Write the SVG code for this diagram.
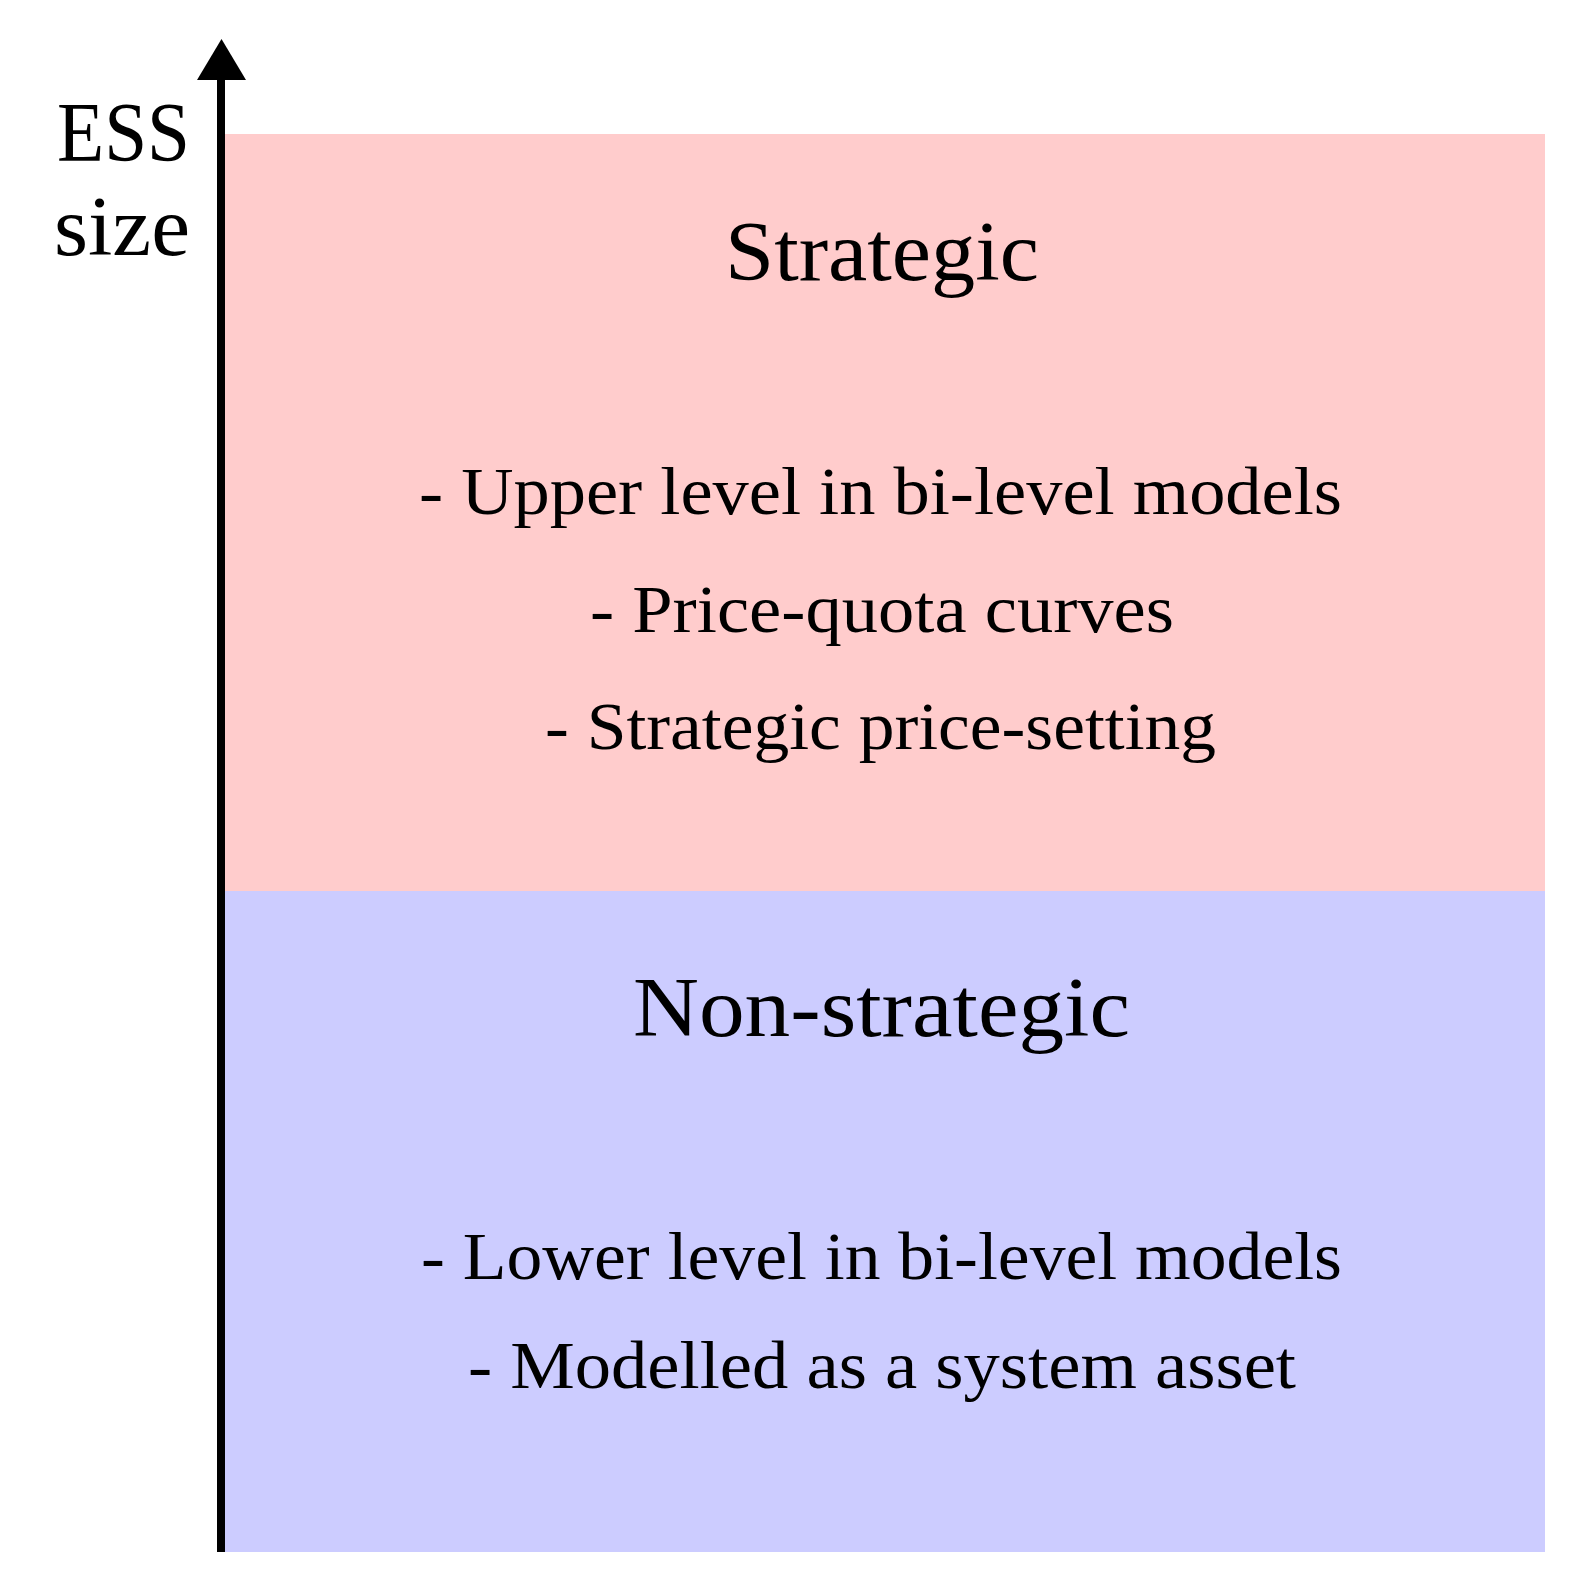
<svg xmlns="http://www.w3.org/2000/svg" width="1577" height="1588" viewBox="0 0 1577 1588">
<style>
text{font-family:"Liberation Serif","Times New Roman",serif;fill:#000;}
.title{font-size:85px;text-anchor:middle;}
.body{font-size:67px;text-anchor:middle;}
.axis{font-size:85px;text-anchor:middle;}
</style>
<rect width="1577" height="1588" fill="#fff"/>
<g id="strategic">
<rect x="225" y="134" width="1320" height="757" fill="#FFCCCC"/>
<text class="title" x="882" y="280" textLength="314" lengthAdjust="spacingAndGlyphs">Strategic</text>
<text class="body" x="880.5" y="514" textLength="923" lengthAdjust="spacingAndGlyphs">- Upper level in bi-level models</text>
<text class="body" x="882" y="632" textLength="584" lengthAdjust="spacingAndGlyphs">- Price-quota curves</text>
<text class="body" x="880.5" y="749" textLength="671" lengthAdjust="spacingAndGlyphs">- Strategic price-setting</text>
</g>
<g id="non-strategic">
<rect x="225" y="891" width="1320" height="661" fill="#CCCCFF"/>
<text class="title" x="881.5" y="1036" textLength="497" lengthAdjust="spacingAndGlyphs">Non-strategic</text>
<text class="body" x="881.5" y="1279" textLength="921" lengthAdjust="spacingAndGlyphs">- Lower level in bi-level models</text>
<text class="body" x="882" y="1388" textLength="828" lengthAdjust="spacingAndGlyphs">- Modelled as a system asset</text>
</g>
<g id="axis-label">
<text class="axis" x="123.5" y="161" textLength="133" lengthAdjust="spacingAndGlyphs">ESS</text>
<text class="axis" x="122" y="255" textLength="136" lengthAdjust="spacingAndGlyphs">size</text>
</g>
<g id="connectors">
<rect x="217" y="78" width="8" height="1474" fill="#000"/>
<polygon points="197,80 246,80 221.5,39" fill="#000"/>
</g>
</svg>
